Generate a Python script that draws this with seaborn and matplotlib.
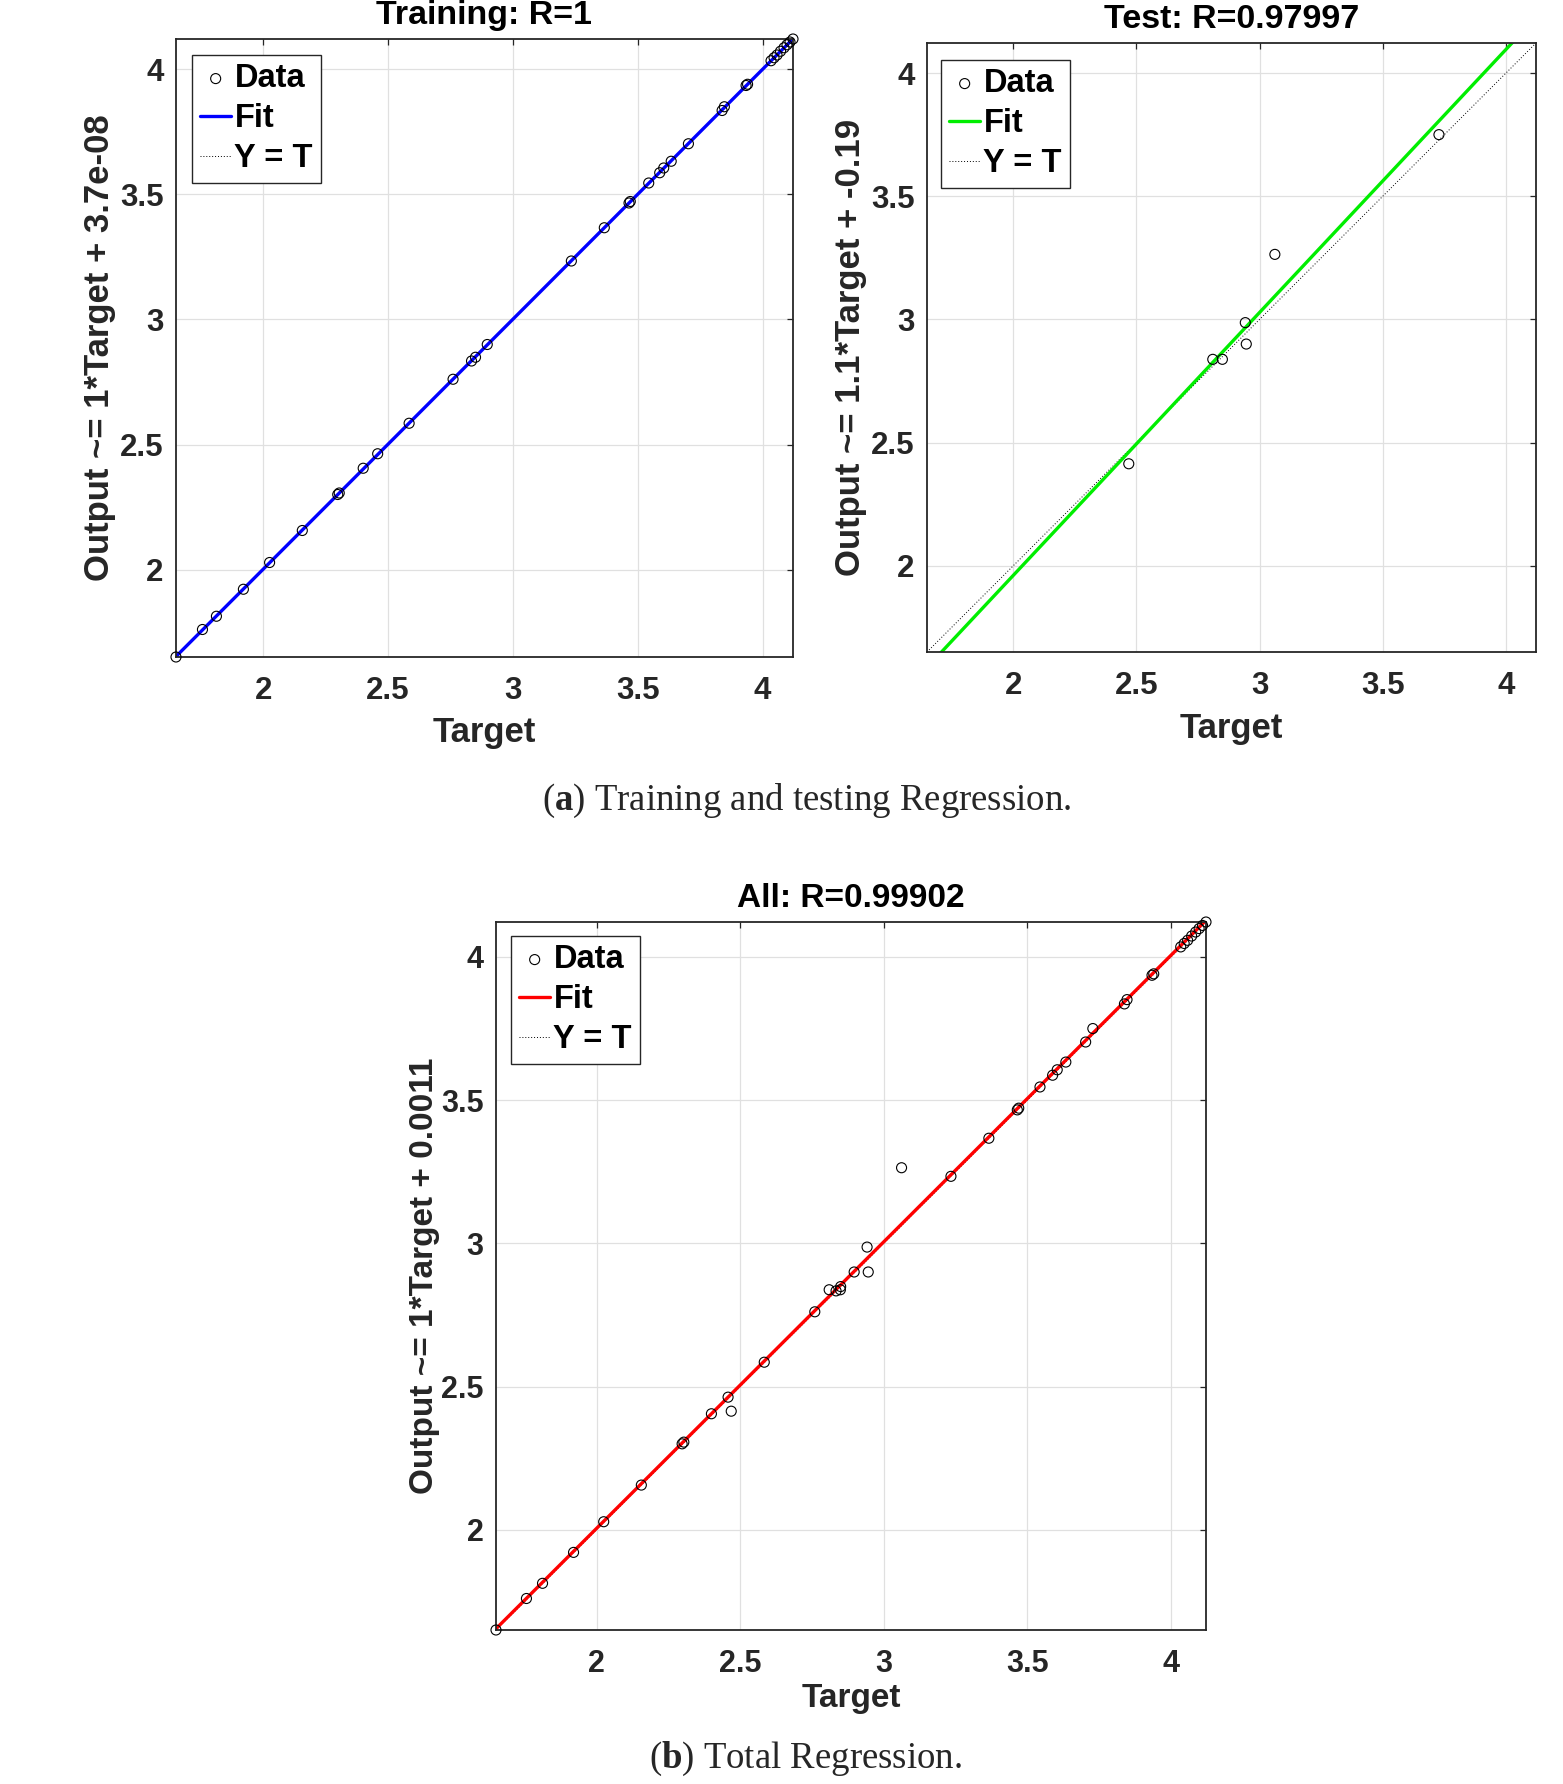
import numpy as np
import seaborn as sns
import matplotlib.pyplot as plt
from matplotlib.ticker import FuncFormatter

# values (Target vs network Output)
train_target = [1.650, 1.756, 1.812, 1.920, 2.025, 2.156, 2.298, 2.304, 2.400, 2.458,
                2.584, 2.760, 2.834, 2.850, 2.897, 3.234, 3.366, 3.465, 3.470, 3.544,
                3.588, 3.604, 3.634, 3.703, 3.838, 3.847, 3.934, 3.940, 4.034, 4.046,
                4.058, 4.072, 4.086, 4.098, 4.110, 4.122]
train_output = [1.650, 1.760, 1.813, 1.921, 2.028, 2.156, 2.300, 2.306, 2.405, 2.463,
                2.585, 2.761, 2.834, 2.849, 2.900, 3.234, 3.367, 3.466, 3.472, 3.546,
                3.587, 3.606, 3.633, 3.703, 3.836, 3.851, 3.936, 3.941, 4.035, 4.047,
                4.058, 4.073, 4.087, 4.099, 4.110, 4.122]
test_target = [2.469, 2.810, 2.849, 2.942, 2.946, 3.062, 3.728]
test_output = [2.414, 2.838, 2.838, 2.987, 2.900, 3.264, 3.750]
all_target = train_target + test_target
all_output = train_output + test_output

titles = ['Training: R=1', 'Test: R=0.97997', 'All: R=0.99902']
ylabels = ['Output ~= 1*Target + 3.7e-08', 'Output ~= 1.1*Target + -0.19',
           'Output ~= 1*Target + 0.0011']
fit_colors = ['#0000ff', '#00ee00', '#ff0000']
ticks = [2, 2.5, 3, 3.5, 4]
legend_labels = ['Data', 'Fit', 'Y = T']
captions = [r'($\mathbf{a}$) Training and testing Regression.',
            r'($\mathbf{b}$) Total Regression.']

sns.set_style('white')
plt.rcParams['font.family'] = ['Liberation Sans', 'DejaVu Sans']
plt.rcParams['mathtext.fontset'] = 'custom'
plt.rcParams['mathtext.rm'] = 'Liberation Serif'
plt.rcParams['mathtext.bf'] = 'Liberation Serif:bold'

W, H = 1563, 1784
fig = plt.figure(figsize=(W / 100, H / 100), dpi=100)
fig.patch.set_facecolor('white')

# axes rectangles in pixels: left, top, width, height
boxes = [(176, 39, 617, 618), (927, 43, 609, 609), (496, 922, 710, 708)]
sets = [(train_target, train_output), (test_target, test_output), (all_target, all_output)]
sizes = [dict(tick=22.5, label=25, title=24.5, leg=23.5),
         dict(tick=22.5, label=25, title=24.5, leg=23.5),
         dict(tick=22, label=24, title=24, leg=23.5)]
ylab_x = [-60, -60, -56]
xlab_y = [-59, -60, -53]
leg_off = [(16, 16), (14, 17), (15, 14)]

lo = min(min(all_target), min(all_output))
hi = max(max(all_target), max(all_output))
dark = '#262626'

for i, (box, (t, o)) in enumerate(zip(boxes, sets)):
    l, tp, w, h = box
    ax = fig.add_axes([l / W, 1 - (tp + h) / H, w / W, h / H])
    fs = sizes[i]
    t = np.array(t)
    o = np.array(o)
    slope, icpt = np.polyfit(t, o, 1)
    xs = np.array([lo, hi])

    sns.lineplot(x=xs, y=xs, color='black', lw=0.7, ls=(0, (1, 2)), ax=ax)
    sns.lineplot(x=xs, y=slope * xs + icpt, color=fit_colors[i], lw=2.4, ax=ax)
    sns.scatterplot(x=t, y=o, marker='o', s=52, facecolors='none', edgecolors='black',
                    linewidths=0.8, ax=ax, clip_on=False, zorder=5)

    ax.set_xlim(lo, hi)
    ax.set_ylim(lo, hi)
    ax.set_xticks(ticks)
    ax.set_yticks(ticks)
    fmt = FuncFormatter(lambda v, p: f'{v:g}')
    ax.xaxis.set_major_formatter(fmt)
    ax.yaxis.set_major_formatter(fmt)
    ax.grid(True, color='#e0e0e0', lw=0.9)
    ax.set_axisbelow(True)
    for sp in ax.spines.values():
        sp.set_color(dark)
        sp.set_linewidth(1.3)
    ax.tick_params(direction='in', length=4.5, width=0.9, color=dark, top=True, right=True,
                   labelsize=fs['tick'], labelcolor=dark)
    ax.tick_params(axis='x', pad=13.5)
    ax.tick_params(axis='y', pad=9)
    for lab in ax.get_xticklabels() + ax.get_yticklabels():
        lab.set_fontweight('bold')

    ax.set_title(titles[i], fontsize=fs['title'], fontweight='bold', color='black', pad=11)
    ax.set_xlabel('Target', fontsize=fs['label'], fontweight='bold', color=dark)
    ax.set_ylabel(ylabels[i], fontsize=fs['label'], fontweight='bold', color=dark)
    ax.xaxis.set_label_coords(0.5, xlab_y[i] / h)
    ax.yaxis.set_label_coords(ylab_x[i] / w, 0.5)

    # legend order as in MATLAB: Data, Fit, Y = T
    handles = [ax.collections[-1], ax.lines[1], ax.lines[0]]
    leg = ax.legend(handles, legend_labels, loc='upper left',
                    bbox_to_anchor=(leg_off[i][0] / w, 1 - leg_off[i][1] / h),
                    borderaxespad=0, fancybox=False, framealpha=1, edgecolor=dark,
                    prop={'weight': 'bold', 'size': fs['leg']},
                    handlelength=0.95, handletextpad=0.1, borderpad=0.25,
                    labelspacing=0.28)
    leg.get_frame().set_linewidth(1.0)
    for txt in leg.get_texts():
        txt.set_color('black')

fig.text(807 / W, 1 - 810 / H, captions[0], ha='center', va='baseline',
         fontsize=26.5, family='Liberation Serif')
fig.text(805 / W, 1 - 1768 / H, captions[1], ha='center', va='baseline',
         fontsize=26.5, family='Liberation Serif')

fig.savefig('out.png', dpi=100, facecolor='white')
